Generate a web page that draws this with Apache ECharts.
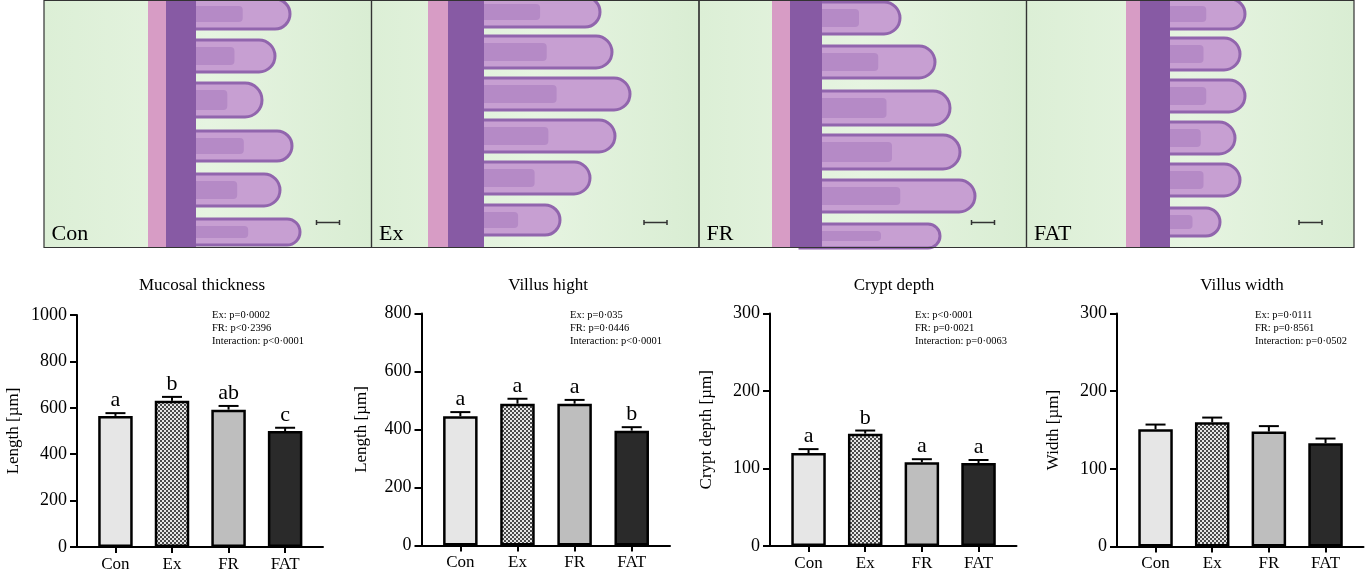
<!DOCTYPE html>
<html>
<head>
<meta charset="utf-8">
<script src="https://cdn.jsdelivr.net/npm/echarts@6/dist/echarts.min.js"></script>
<style>
html,body{margin:0;padding:0;background:#fff;}
#c{width:1367px;height:576px;}
</style>
</head>
<body>
<div id="c"></div>
<script>
// ---------------- data ----------------
const categories = ['Con', 'Ex', 'FR', 'FAT'];

const mucosalValues = [565, 630, 592, 500];
const mucosalErrors = [12, 17, 16, 14];
const mucosalLetters = ['a', 'b', 'ab', 'c'];

const villusHeightValues = [446, 489, 489, 396];
const villusHeightErrors = [14, 17, 13, 12];
const villusHeightLetters = ['a', 'a', 'a', 'b'];

const cryptValues = [120, 145, 108, 107];
const cryptErrors = [5, 4, 4, 4];
const cryptLetters = ['a', 'b', 'a', 'a'];

const villusWidthValues = [151, 160, 148, 133];
const villusWidthErrors = [6, 6, 7, 6];
const villusWidthLetters = ['', '', '', ''];

const chartTitles = ['Mucosal thickness', 'Villus hight', 'Crypt depth', 'Villus width'];
const yAxisNames = ['Length [µm]', 'Length [µm]', 'Crypt depth [µm]', 'Width [µm]'];
const yMax = [1000, 800, 300, 300];
const yInterval = [200, 200, 100, 100];
const statsLines = [
  ['Ex: p=0·0002', 'FR: p<0·2396', 'Interaction: p<0·0001'],
  ['Ex: p=0·035', 'FR: p=0·0446', 'Interaction: p<0·0001'],
  ['Ex: p<0·0001', 'FR: p=0·0021', 'Interaction: p=0·0063'],
  ['Ex: p=0·0111', 'FR: p=0·8561', 'Interaction: p=0·0502']
];
const panelLabels = ['Con', 'Ex', 'FR', 'FAT'];

const allValues = [mucosalValues, villusHeightValues, cryptValues, villusWidthValues];
const allErrors = [mucosalErrors, villusHeightErrors, cryptErrors, villusWidthErrors];
const allLetters = [mucosalLetters, villusHeightLetters, cryptLetters, villusWidthLetters];

// ---------------- styling ----------------
const FONT = '"Liberation Serif", "Times New Roman", serif';

function checker() {
  const c = document.createElement('canvas');
  c.width = 4; c.height = 4;
  const g = c.getContext('2d');
  g.fillStyle = '#e6e6e6'; g.fillRect(0, 0, 4, 4);
  g.fillStyle = '#4a4a4a'; g.fillRect(0, 0, 2, 2); g.fillRect(2, 2, 2, 2);
  return c;
}
const barFills = ['#e6e6e6', {image: checker(), repeat: 'repeat'}, '#bebebe', '#2a2a2a'];

const grids = [
  {left: 77, top: 315, width: 246, height: 232},
  {left: 421.5, top: 313.5, width: 248.5, height: 232},
  {left: 770, top: 313.5, width: 246.5, height: 232.5},
  {left: 1117, top: 313.5, width: 246.5, height: 233}
];
const nameGaps = [55, 51, 55, 55];
const titleX = [202, 548, 894, 1242];
const statsX = [212, 570, 915, 1255];

const xAxes = [], yAxes = [], series = [];
for (let i = 0; i < 4; i++) {
  xAxes.push({
    type: 'value', gridIndex: i, min: -0.68, max: 3.67,
    splitLine: {show: false},
    axisLine: {show: true, onZero: false, lineStyle: {color: '#000', width: 2}},
    axisTick: {show: true, customValues: [0, 1, 2, 3], length: 6, lineStyle: {color: '#000', width: 2}},
    axisLabel: {customValues: [0, 1, 2, 3], formatter: v => categories[Math.round(v)] || '',
      color: '#000', fontFamily: FONT, fontSize: 17, margin: 9}
  });
  yAxes.push({
    type: 'value', gridIndex: i, min: 0, max: yMax[i], interval: yInterval[i],
    splitLine: {show: false},
    axisLine: {show: true, onZero: false, lineStyle: {color: '#000', width: 2}},
    axisTick: {show: true, length: 7, lineStyle: {color: '#000', width: 2}},
    axisLabel: {color: '#000', fontFamily: FONT, fontSize: 18, margin: 10, formatter: v => String(v)},
    name: yAxisNames[i], nameLocation: 'middle', nameGap: nameGaps[i], nameRotate: 90,
    nameTextStyle: {color: '#000', fontFamily: FONT, fontSize: 17}
  });
  series.push({
    type: 'bar', xAxisIndex: i, yAxisIndex: i, barWidth: 34.5, z: 2,
    data: allValues[i].map((v, k) => ({value: [k, v], itemStyle: {color: barFills[k]}})),
    itemStyle: {borderColor: '#000', borderWidth: 2.5},
    emphasis: {disabled: true}, animation: false
  });
  const idx = i;
  series.push({
    type: 'custom', xAxisIndex: i, yAxisIndex: i, z: 3, animation: false, clip: false,
    data: allValues[i].map((v, k) => [k, v, allErrors[i][k]]),
    encode: {x: 0, y: 1},
    renderItem: function (params, api) {
      const x = api.value(0), y = api.value(1), e = api.value(2);
      const p0 = api.coord([x, y]);
      const p1 = api.coord([x, y + e]);
      const letter = allLetters[idx][params.dataIndex];
      const children = [
        {type: 'line', shape: {x1: p0[0], y1: p0[1], x2: p1[0], y2: p1[1]}, style: {stroke: '#000', lineWidth: 2}},
        {type: 'line', shape: {x1: p1[0] - 10, y1: p1[1], x2: p1[0] + 10, y2: p1[1]}, style: {stroke: '#000', lineWidth: 2}}
      ];
      if (letter) {
        children.push({type: 'text', x: p1[0], y: p1[1] - 1.5,
          style: {text: letter, fill: '#000', font: '22px ' + FONT, textAlign: 'center', textVerticalAlign: 'bottom'}});
      }
      return {type: 'group', children: children};
    }
  });
}

// ---------------- graphic: titles, stats, histology panels ----------------
const graphic = [];
for (let i = 0; i < 4; i++) {
  graphic.push({type: 'text', x: titleX[i], y: 286, z: 10,
    style: {text: chartTitles[i], fill: '#000', font: '17px ' + FONT, textAlign: 'center', textVerticalAlign: 'middle'}});
  statsLines[i].forEach((t, k) => {
    graphic.push({type: 'text', x: statsX[i], y: 315 + k * 13, z: 10,
      style: {text: t, fill: '#000', font: '10.5px ' + FONT, textAlign: 'left', textVerticalAlign: 'middle'}});
  });
}

// stylised micrograph panels (decorative stand-in for the photographs)
const PW = 327.5, PTOP = 0, PH = 247.5, P0 = 44;
const tissue = [
  {mus: 148, crypt: 166, cw: 30, villi: [[14, 290, 30], [56, 275, 32], [100, 262, 34], [146, 292, 30], [190, 280, 32], [232, 300, 26]]},
  {mus: 428, crypt: 448, cw: 36, villi: [[12, 600, 30], [52, 612, 32], [94, 630, 32], [136, 615, 32], [178, 590, 32], [220, 560, 30]]},
  {mus: 772, crypt: 790, cw: 32, villi: [[18, 900, 32], [62, 935, 32], [108, 950, 34], [152, 960, 34], [196, 975, 32], [236, 940, 24]]},
  {mus: 1126, crypt: 1140, cw: 30, villi: [[14, 1245, 30], [54, 1240, 32], [96, 1245, 32], [138, 1235, 32], [180, 1240, 32], [222, 1220, 28]]}
];
for (let p = 0; p < 4; p++) {
  const x0 = P0 + p * PW;
  const t = tissue[p];
  graphic.push({type: 'rect', z: 1, shape: {x: x0, y: PTOP, width: PW, height: PH},
    style: {fill: {type: 'linear', x: 0, y: 0, x2: 1, y2: 0,
      colorStops: [{offset: 0, color: '#dcefd6'}, {offset: 0.5, color: '#e6f4e1'}, {offset: 1, color: '#d9edd3'}]}}});
  t.villi.forEach(v => {
    const h = v[2];
    graphic.push({type: 'rect', z: 2, shape: {x: t.crypt + 10, y: v[0] - h / 2, width: v[1] - t.crypt - 10, height: h, r: [0, h / 2, h / 2, 0]},
      style: {fill: '#c79fd2', stroke: '#9165ad', lineWidth: 3}});
    graphic.push({type: 'rect', z: 2, shape: {x: t.crypt + 14, y: v[0] - h / 2 + 7, width: (v[1] - t.crypt - 10) * 0.55, height: h - 14, r: 4},
      style: {fill: '#b58ac6'}});
  });
  graphic.push({type: 'rect', z: 3, shape: {x: t.crypt, y: PTOP, width: t.cw, height: PH},
    style: {fill: '#875aa4'}});
  graphic.push({type: 'rect', z: 3, shape: {x: t.mus, y: PTOP, width: t.crypt - t.mus, height: PH},
    style: {fill: '#d79cc5'}});
  const sbx = x0 + PW - 55;
  graphic.push({type: 'line', z: 4, shape: {x1: sbx, y1: 222.5, x2: sbx + 23, y2: 222.5}, style: {stroke: '#333', lineWidth: 1.5}});
  graphic.push({type: 'line', z: 4, shape: {x1: sbx, y1: 220, x2: sbx, y2: 225}, style: {stroke: '#333', lineWidth: 1.5}});
  graphic.push({type: 'line', z: 4, shape: {x1: sbx + 23, y1: 220, x2: sbx + 23, y2: 225}, style: {stroke: '#333', lineWidth: 1.5}});
  graphic.push({type: 'text', z: 5, x: x0 + 7.5, y: 234,
    style: {text: panelLabels[p], fill: '#000', font: '22px ' + FONT, textAlign: 'left', textVerticalAlign: 'middle'}});
  graphic.push({type: 'rect', z: 6, shape: {x: x0, y: PTOP + 0.5, width: PW, height: PH - 0.5},
    style: {fill: 'none', stroke: '#333', lineWidth: 1.2}});
}

const chart = echarts.init(document.getElementById('c'), null, {renderer: 'canvas'});
chart.setOption({
  backgroundColor: '#fff',
  animation: false,
  grid: grids,
  xAxis: xAxes,
  yAxis: yAxes,
  series: series,
  graphic: graphic
});
</script>
</body>
</html>
